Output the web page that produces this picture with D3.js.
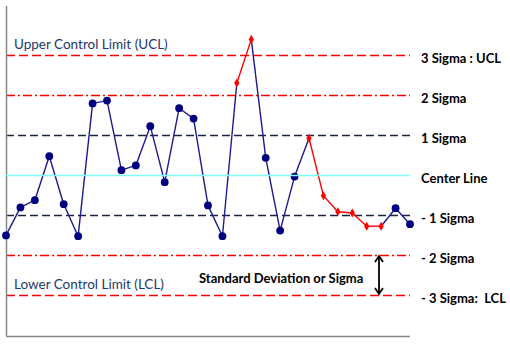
<!DOCTYPE html>
<html>
<head>
<meta charset="utf-8">
<script src="https://cdn.jsdelivr.net/npm/d3@7"></script>
<style>
  body { margin: 0; background: #fff; }
  svg { display: block; font-family: Lato, "Noto Sans", sans-serif; }
</style>
</head>
<body>
<div id="chart"></div>
<script>
const values = [-1.51, -0.81, -0.63, 0.47, -0.73, -1.53, 1.79, 1.86, 0.12, 0.24,
  1.22, -0.18, 1.67, 1.41, -0.76, -1.53, 2.3, 3.39, 0.43, -1.39,
  -0.04, 0.92, -0.52, -0.92, -0.95, -1.28, -1.28, -0.83, -1.23];
// points flagged as out of control (drawn in red)
const flagged = [16, 17, 21, 22, 23, 24, 25, 26];

const sigmaLevels = [3, 2, 1, 0, -1, -2, -3];
const sigmaLabels = ["3 Sigma : UCL", "2 Sigma", "1 Sigma", "Center Line", "- 1 Sigma", "- 2 Sigma", "- 3 Sigma:  LCL"];

const width = 510, height = 352;
const left = 6, right = 410;

const svg = d3.select("#chart").append("svg")
  .attr("width", width)
  .attr("height", height);

const x = d3.scaleLinear().domain([0, values.length - 1]).range([left, right]);
const y = d3.scaleLinear().domain([-4, 4.25]).range([335, 5]);

function lineStyle(s) {
  if (s === 0) return { stroke: "#80ffff", dash: null };
  if (Math.abs(s) === 3) return { stroke: "#ff0000", dash: "9,4" };
  if (Math.abs(s) === 2) return { stroke: "#ff0000", dash: "9,3,2,3" };
  return { stroke: "#1a2440", dash: "8,4" };
}

// limit lines (center line goes on top later)
svg.selectAll(".limit")
  .data(sigmaLevels.filter(s => s !== 0))
  .join("line")
  .attr("class", "limit")
  .attr("x1", left).attr("x2", right)
  .attr("y1", d => Math.round(y(d)) + 0.5).attr("y2", d => Math.round(y(d)) + 0.5)
  .attr("stroke", d => lineStyle(d).stroke)
  .attr("stroke-width", 1.5)
  .attr("stroke-dasharray", d => lineStyle(d).dash);

// axes
svg.append("line")
  .attr("x1", left + 0.5).attr("x2", left + 0.5)
  .attr("y1", 6).attr("y2", 336)
  .attr("stroke", "#868686").attr("stroke-width", 1.5);
svg.append("line")
  .attr("x1", left).attr("x2", right)
  .attr("y1", 336.5).attr("y2", 336.5)
  .attr("stroke", "#868686").attr("stroke-width", 1.5);

// series segments, red when both ends are flagged
const isRed = i => flagged.includes(i);
const segs = d3.pairs(d3.range(values.length));
svg.selectAll(".seg")
  .data(segs)
  .join("line")
  .attr("class", "seg")
  .attr("x1", d => x(d[0])).attr("y1", d => y(values[d[0]]))
  .attr("x2", d => x(d[1])).attr("y2", d => y(values[d[1]]))
  .attr("stroke", d => isRed(d[0]) && isRed(d[1]) ? "#ff0000" : "#1c1c8c")
  .attr("stroke-width", 1.4);

// markers
svg.selectAll(".pt")
  .data(values.map((v, i) => ({ v, i })).filter(d => !isRed(d.i)))
  .join("circle")
  .attr("class", "pt")
  .attr("cx", d => x(d.i)).attr("cy", d => y(d.v))
  .attr("r", 3.9)
  .attr("fill", "#000080");

svg.selectAll(".redpt")
  .data(values.map((v, i) => ({ v, i })).filter(d => isRed(d.i)))
  .join("path")
  .attr("class", "redpt")
  .attr("transform", d => `translate(${x(d.i)},${y(d.v)})`)
  .attr("d", d3.symbol(d3.symbolDiamond, 24))
  .attr("fill", "#ff0000");

// center line on top
svg.append("line")
  .attr("x1", left).attr("x2", right)
  .attr("y1", Math.round(y(0)) + 0.5).attr("y2", Math.round(y(0)) + 0.5)
  .attr("stroke", "#80ffff").attr("stroke-width", 1.5);

// right labels
svg.selectAll(".rlabel")
  .data(sigmaLevels)
  .join("text")
  .attr("class", "rlabel")
  .attr("x", 421)
  .attr("y", d => y(d) + 2.5)
  .attr("dominant-baseline", "central")
  .attr("font-size", 13)
  .attr("font-weight", "bold")
  .attr("fill", "#000")
  .style("white-space", "pre")
  .text((d, i) => sigmaLabels[i]);

// annotations
svg.append("text")
  .attr("x", 14).attr("y", 44)
  .attr("dominant-baseline", "central")
  .attr("font-size", 13.5)
  .attr("fill", "#1f3864")
  .text("Upper Control Limit (UCL)");

svg.append("text")
  .attr("x", 14).attr("y", 284)
  .attr("dominant-baseline", "central")
  .attr("font-size", 13.5)
  .attr("fill", "#1f3864")
  .text("Lower Control Limit (LCL)");

svg.append("text")
  .attr("x", 199).attr("y", 278)
  .attr("dominant-baseline", "central")
  .attr("font-size", 13)
  .attr("font-weight", "bold")
  .attr("fill", "#000")
  .text("Standard Deviation or Sigma");

// double-headed arrow between -2 and -3 sigma
const ax = 379;
svg.append("line")
  .attr("x1", ax).attr("x2", ax)
  .attr("y1", y(-2) + 2).attr("y2", y(-3) - 2)
  .attr("stroke", "#000").attr("stroke-width", 1.8);
svg.append("path")
  .attr("d", `M${ax - 4},${y(-2) + 7} L${ax},${y(-2) + 1} L${ax + 4},${y(-2) + 7}`)
  .attr("fill", "none").attr("stroke", "#000").attr("stroke-width", 1.8);
svg.append("path")
  .attr("d", `M${ax - 4},${y(-3) - 7} L${ax},${y(-3) - 1} L${ax + 4},${y(-3) - 7}`)
  .attr("fill", "none").attr("stroke", "#000").attr("stroke-width", 1.8);
</script>
</body>
</html>
